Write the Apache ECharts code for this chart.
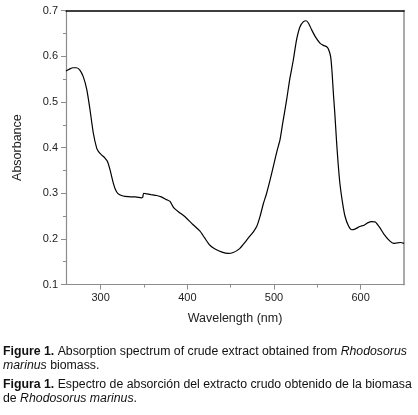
<!DOCTYPE html>
<html>
<head>
<meta charset="utf-8">
<script src="https://cdn.jsdelivr.net/npm/echarts@6/dist/echarts.min.js"></script>
<style>
html,body{margin:0;padding:0;background:#fff;}
#c{width:418px;height:415px;}
</style>
</head>
<body>
<div id="c"></div>
<script>
var wavelength = [260,264,268,272,276,280,284,287.7,291.5,295.4,298,301,305,308,311,314.6,317,320,324,328,335,340,347,348.5,349.5,352,358,364.6,370,376,380,384,390,397,405,414.6,420,426,432,440,447,453,460,465,470,476,480,484,487.7,491.5,496,500,503.8,506.9,510,514.6,518,522.3,526,530,534,537,540,543.5,548,553,557,560.8,563,565.4,567,568.5,570,572.3,574,576,579,582,586,589.6,594,599,604,608,612.6,617,622.3,627,633.8,638,641.5,646,650];
var absorbance = [0.568,0.572,0.575,0.575,0.570,0.555,0.527,0.483,0.432,0.399,0.390,0.384,0.377,0.369,0.350,0.322,0.308,0.299,0.295,0.293,0.292,0.292,0.290,0.291,0.300,0.299,0.297,0.295,0.292,0.286,0.282,0.269,0.259,0.249,0.234,0.217,0.202,0.186,0.178,0.171,0.168,0.170,0.178,0.189,0.201,0.215,0.227,0.250,0.277,0.300,0.333,0.365,0.395,0.417,0.453,0.505,0.548,0.592,0.636,0.665,0.676,0.678,0.672,0.658,0.642,0.629,0.624,0.621,0.615,0.599,0.565,0.519,0.480,0.410,0.365,0.322,0.280,0.249,0.228,0.220,0.222,0.227,0.230,0.235,0.238,0.237,0.224,0.210,0.195,0.190,0.191,0.192,0.190];
var xMajorTicks = [300,400,500,600];
var xMinorTicks = [350,450,550];
var xName = 'Wavelength (nm)';
var yName = 'Absorbance';
var caption1a = '{b|Figure 1.} Absorption spectrum of crude extract obtained from {i|Rhodosorus}';
var caption1b = '{i|marinus} biomass.';
var caption2a = '{b|Figura 1.} Espectro de absorción del extracto crudo obtenido de la biomasa';
var caption2b = 'de {i|Rhodosorus marinus}.';

var data = wavelength.map(function(w,i){return [w, absorbance[i]];});
var FONT = 'Liberation Sans, Arial, sans-serif';
var axisGray = '#8c8c8c';
var CAPSIZE = 12.3;
var rich = {
  b:{fontWeight:'bold',fontSize:CAPSIZE,fontFamily:FONT,fill:'#111'},
  i:{fontStyle:'italic',fontSize:CAPSIZE,fontFamily:FONT,fill:'#111'}
};
function cap(t,y){
  return {type:'text',x:3,y:y,style:{text:t,rich:rich,fontSize:CAPSIZE,fontFamily:FONT,fill:'#111',verticalAlign:'middle',align:'left'}};
}
var chart = echarts.init(document.getElementById('c'),null,{renderer:'canvas'});
chart.setOption({
  animation:false,
  backgroundColor:'#fff',
  grid:{left:66,right:14,top:10.7,bottom:130.5,containLabel:false},
  xAxis:[
    {type:'value',min:260,max:650,position:'bottom',
     name:xName,nameLocation:'middle',nameGap:28,
     nameTextStyle:{fontFamily:FONT,fontSize:12.5,color:'#222'},
     axisLine:{show:true,lineStyle:{color:axisGray,width:1.2}},
     axisTick:{show:true,length:5,inside:false,customValues:xMajorTicks,lineStyle:{color:axisGray}},
     axisLabel:{show:true,customValues:xMajorTicks,margin:8,fontFamily:FONT,fontSize:11,color:'#222'},
     splitLine:{show:false}},
    {type:'value',min:260,max:650,position:'bottom',
     axisLine:{show:false},
     axisTick:{show:true,length:3,inside:false,customValues:xMinorTicks,lineStyle:{color:axisGray}},
     axisLabel:{show:false},splitLine:{show:false}},
    {type:'value',min:260,max:650,position:'top',
     axisLine:{show:true,lineStyle:{color:'#000',width:1.5}},
     axisTick:{show:false},axisLabel:{show:false},splitLine:{show:false}}
  ],
  yAxis:[
    {type:'value',min:0.1,max:0.7,interval:0.1,position:'left',
     name:yName,nameLocation:'middle',nameGap:42,nameRotate:90,
     nameTextStyle:{fontFamily:FONT,fontSize:12.5,color:'#222'},
     axisLine:{show:true,lineStyle:{color:axisGray,width:1.2}},
     axisTick:{show:true,length:5,lineStyle:{color:axisGray}},
     minorTick:{show:true,splitNumber:2,length:3,lineStyle:{color:axisGray}},
     axisLabel:{margin:8,fontFamily:FONT,fontSize:11,color:'#222',formatter:function(v){return v.toFixed(1);}},
     splitLine:{show:false}},
    {type:'value',min:0.1,max:0.7,position:'right',
     axisLine:{show:true,lineStyle:{color:'#aaa',width:2}},
     axisTick:{show:false},axisLabel:{show:false},splitLine:{show:false}}
  ],
  series:[{type:'line',xAxisIndex:0,yAxisIndex:0,data:data,showSymbol:false,smooth:0.2,
    lineStyle:{color:'#000',width:1.2}}],
  graphic:[cap(caption1a,351.7),cap(caption1b,366),cap(caption2a,384.3),cap(caption2b,398.3)]
});
</script>
</body>
</html>
